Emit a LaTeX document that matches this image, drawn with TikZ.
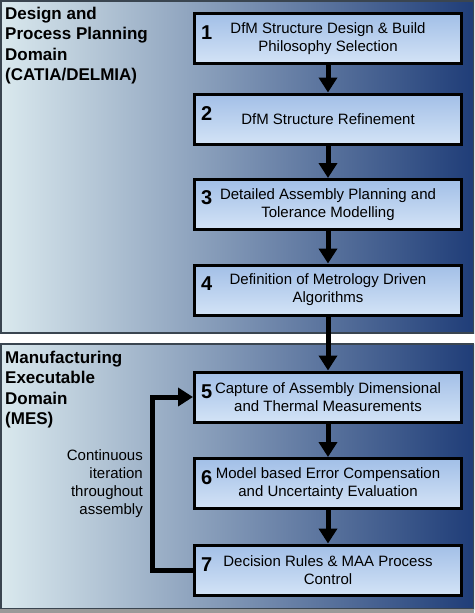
\documentclass[tikz,border=0pt]{standalone}
\usepackage{fontspec}
\setmainfont{Liberation Sans}
\usetikzlibrary{arrows.meta}
\definecolor{panL}{HTML}{DAE9EE}
\definecolor{panM}{HTML}{86A2C0}
\definecolor{panR}{HTML}{1F3D78}
\definecolor{boxT}{HTML}{A2BFE7}
\definecolor{boxB}{HTML}{D3E3F6}
\definecolor{frameC}{HTML}{3A4550}
\begin{document}
\begin{tikzpicture}[x=1pt,y=-1pt,
  stepbox/.style={draw=black, line width=3pt, top color=boxT, bottom color=boxB,
    minimum width=267pt, minimum height=50pt, align=center, inner sep=0pt,
    font=\fontsize{15}{18}\selectfont},
  num/.style={anchor=base west, inner sep=0pt, font=\fontsize{20}{20}\selectfont\bfseries},
  domlabel/.style={anchor=north west, inner sep=0pt, align=left,
    font=\fontsize{17}{20.5}\selectfont\bfseries},
  note/.style={anchor=north east, inner sep=0pt, align=right,
    font=\fontsize{15}{18}\selectfont},
  flow/.style={line width=5pt, -{Triangle[width=18pt,length=15pt]}},
  panelborder/.style={draw=frameC, line width=1.5pt}]
\useasboundingbox (0,0) rectangle (474,613);
\fill[white] (0,0) rectangle (474,613);
% panels
\shade[left color=panL, middle color=panM, right color=panR] (0,0) rectangle (474,333);
\shade[left color=panL, middle color=panM, right color=panR] (0,344) rectangle (474,609);
\draw[panelborder] (0.75,0.75) rectangle (473.25,333);
\draw[panelborder] (0.75,344) rectangle (473.25,608.5);
\fill[gray!80] (0,609.25) rectangle (474,613);
% domain labels
\node[domlabel] (d1) at (5,6.5) {Design and\\Process Planning\\Domain\\(CATIA/DELMIA)};
\node[domlabel] (d2) at (5,350.5) {Manufacturing\\Executable\\Domain\\(MES)};
\node[note] (it) at (143,449) {Continuous\\iteration\\throughout\\assembly};
% boxes
\node[stepbox] (b1) at (328,38.5) {DfM Structure Design \& Build\\Philosophy Selection};
\node[stepbox] (b2) at (328,119) {DfM Structure Refinement};
\node[stepbox] (b3) at (328,204.5) {Detailed Assembly Planning and\\Tolerance Modelling};
\node[stepbox] (b4) at (328,290) {Definition of Metrology Driven\\Algorithms};
\node[stepbox] (b5) at (328,397) {Capture of Assembly Dimensional\\and Thermal Measurements};
\node[stepbox] (b6) at (328,483.5) {Model based Error Compensation\\and Uncertainty Evaluation};
\node[stepbox] (b7) at (328,570) {Decision Rules \& MAA Process\\Control};
% numbers
\node[num] (n1) at (201,39) {1};
\node[num] (n2) at (201,120) {2};
\node[num] (n3) at (201,204) {3};
\node[num] (n4) at (201,290) {4};
\node[num] (n5) at (201,398) {5};
\node[num] (n6) at (201,484) {6};
\node[num] (n7) at (201,571) {7};
% connectors
\draw[flow] (b1) -- (b2);
\draw[flow] (b2) -- (b3);
\draw[flow] (b3) -- (b4);
\draw[flow] (b4) -- (b5);
\draw[flow] (b5) -- (b6);
\draw[flow] (b6) -- (b7);
\coordinate (fb) at (152,480);
\draw[flow] (b7.west) -| (fb) |- (b5.west);
\end{tikzpicture}
\end{document}
